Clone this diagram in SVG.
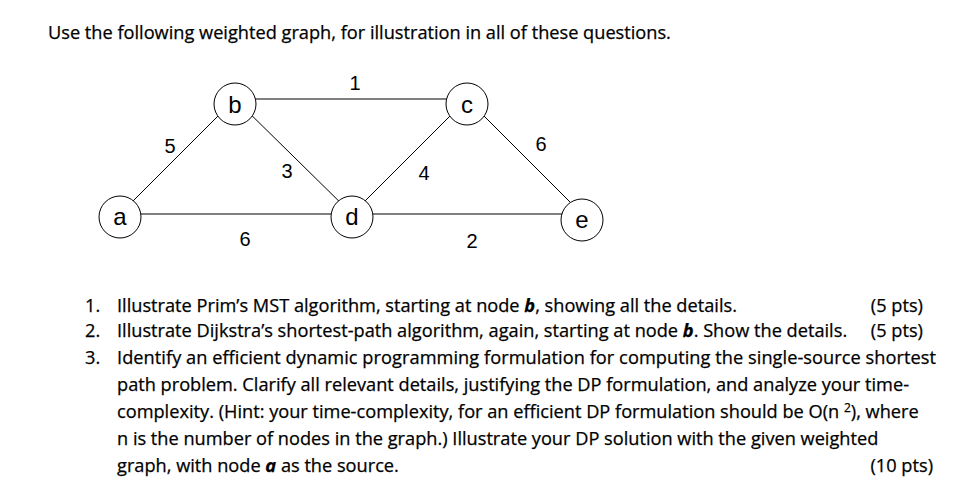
<svg xmlns="http://www.w3.org/2000/svg" width="968" height="489" viewBox="0 0 968 489">
<style>
.e{stroke:#000;stroke-width:1;fill:none}
.n{fill:#fff;stroke:#000;stroke-width:1}
.nl{font-family:"Liberation Sans",Arial,sans-serif;font-size:24px;text-anchor:middle}
.w{font-family:"Liberation Sans",Arial,sans-serif;font-size:20px;text-anchor:middle}
.t{font-family:"Open Sans","Noto Sans",sans-serif;font-size:18.2px;fill:#000;stroke:#000;stroke-width:0.25}
</style>
<rect width="968" height="489" fill="#fff"/>
<text class="t" x="48" y="39">Use the following weighted graph, for illustration in all of these questions.</text>
<g id="connectors">
<line class="e" x1="235" y1="99" x2="467" y2="99"/>
<line class="e" x1="120" y1="214" x2="352" y2="214"/>
<line class="e" x1="352" y1="214" x2="582" y2="214"/>
<line class="e" x1="120" y1="214" x2="235" y2="99"/>
<line class="e" x1="235" y1="99" x2="352" y2="214"/>
<line class="e" x1="352" y1="214" x2="467" y2="99"/>
<line class="e" x1="467" y1="99" x2="582" y2="214"/>
<text class="w" x="355" y="90">1</text>
<text class="w" x="170" y="153">5</text>
<text class="w" x="287" y="178">3</text>
<text class="w" x="424" y="180">4</text>
<text class="w" x="541" y="151">6</text>
<text class="w" x="245" y="246">6</text>
<text class="w" x="472" y="248">2</text>
</g>
<g id="node-b"><ellipse class="n" cx="235" cy="104" rx="21" ry="21"/><text class="nl" x="235" y="113">b</text></g>
<g id="node-c"><ellipse class="n" cx="467" cy="104" rx="21" ry="21"/><text class="nl" x="467" y="113">c</text></g>
<g id="node-a"><ellipse class="n" cx="120" cy="217" rx="21" ry="21"/><text class="nl" x="120" y="225">a</text></g>
<g id="node-d"><ellipse class="n" cx="352" cy="217" rx="21" ry="21"/><text class="nl" x="352" y="225">d</text></g>
<g id="node-e"><ellipse class="n" cx="582" cy="220" rx="21" ry="21"/><text class="nl" x="582" y="228">e</text></g>
<g class="t">
<text x="85" y="312">1.</text>
<text x="117" y="312">Illustrate Prim’s MST algorithm, starting at node <tspan font-weight="bold" font-style="italic">b</tspan>, showing all the details.</text>
<text x="923" y="312" text-anchor="end">(5 pts)</text>
<text x="85" y="337">2.</text>
<text x="117" y="337">Illustrate Dijkstra’s shortest-path algorithm, again, starting at node <tspan font-weight="bold" font-style="italic">b</tspan>. Show the details.</text>
<text x="923" y="337" text-anchor="end">(5 pts)</text>
<text x="85" y="364">3.</text>
<text x="117" y="364" textLength="819" lengthAdjust="spacing">Identify an efficient dynamic programming formulation for computing the single-source shortest</text>
<text x="117" y="391">path problem. Clarify all relevant details, justifying the DP formulation, and analyze your time-</text>
<text x="117" y="418">complexity. (Hint: your time-complexity, for an efficient DP formulation should be O(n <tspan font-size="12" dy="-6">2</tspan><tspan dy="6">), where</tspan></text>
<text x="117" y="445">n is the number of nodes in the graph.) Illustrate your DP solution with the given weighted</text>
<text x="117" y="472">graph,  with node <tspan font-weight="bold" font-style="italic">a</tspan>  as the source.</text>
<text x="933" y="472" text-anchor="end">(10 pts)</text>
</g>
</svg>
